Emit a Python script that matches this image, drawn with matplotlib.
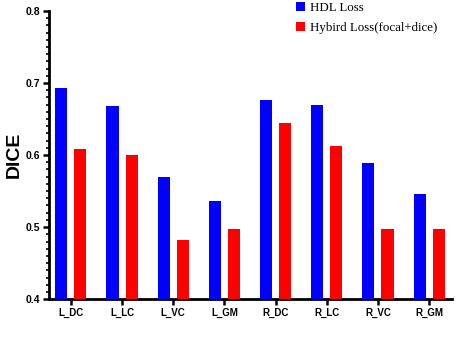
import numpy as np
import matplotlib

matplotlib.use("Agg")
import matplotlib.pyplot as plt
from matplotlib.ticker import MultipleLocator

# ===================== Data =====================
regions = ["L_DC", "L_LC", "L_VC", "L_GM", "R_DC", "R_LC", "R_VC", "R_GM"]
hdl = np.array([0.693, 0.668, 0.570, 0.536, 0.676, 0.670, 0.589, 0.546])
hybrid = np.array([0.608, 0.600, 0.482, 0.498, 0.644, 0.612, 0.497, 0.498])
series_names = ["HDL Loss", "Hybird Loss(focal+dice)"]

# ===================== Figure =====================
fig, ax = plt.subplots(figsize=(4.74, 3.4), dpi=100)
fig.patch.set_facecolor("white")

x = np.arange(len(regions))
bar_w = 0.235
off = 0.186

ax.bar(x - off, hdl, width=bar_w, color="#0000FF", label=series_names[0], zorder=3)
ax.bar(x + off, hybrid, width=bar_w, color="#FF0000", label=series_names[1], zorder=3)

# ===================== Axes =====================
ax.set_xlim(-0.43, 7.45)
ax.set_ylim(0.4, 0.8)
ax.set_xticks(x)
ax.set_xticklabels(regions, fontweight="bold", fontsize=7, family="Liberation Sans")
ax.set_yticks([0.4, 0.5, 0.6, 0.7, 0.8])
ax.set_yticklabels(["0.4", "0.5", "0.6", "0.7", "0.8"], fontweight="bold",
                   fontsize=7.5, family="Liberation Sans")
ax.yaxis.set_minor_locator(MultipleLocator(0.01))

ax.set_ylabel("DICE", fontsize=14, fontweight="bold", family="Liberation Sans",
              labelpad=2)

ax.tick_params(axis="both", which="major", direction="out", width=1.8,
               length=4, pad=2)
ax.tick_params(axis="y", which="minor", direction="out", width=1.2, length=2.5)

for sp in ["top", "right"]:
    ax.spines[sp].set_visible(False)
for sp in ["left", "bottom"]:
    ax.spines[sp].set_linewidth(2)

# ===================== Legend =====================
leg = ax.legend(loc="upper left", bbox_to_anchor=(296 / 474, 0.994),
                bbox_transform=fig.transFigure, frameon=False,
                prop={"family": "Liberation Serif", "size": 9.3},
                handlelength=0.7, handleheight=0.7, handletextpad=0.35,
                labelspacing=0.6, borderpad=0, borderaxespad=0)

# ===================== Layout =====================
plt.subplots_adjust(left=0.103, right=0.954, bottom=0.12, top=0.968)

plt.savefig("out.png", dpi=100)
